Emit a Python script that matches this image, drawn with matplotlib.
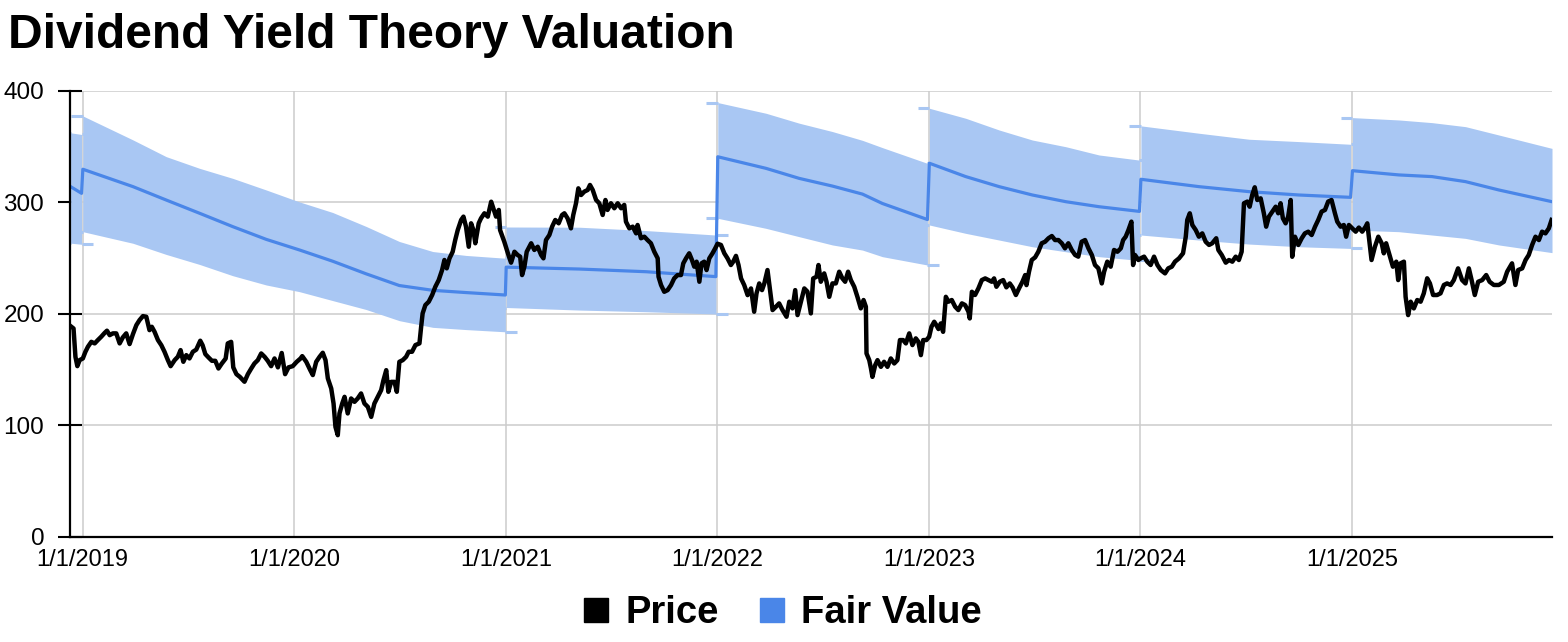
import matplotlib
matplotlib.use("Agg")
import matplotlib.pyplot as plt
from matplotlib.lines import Line2D

plt.rcParams['font.family'] = ['Liberation Sans', 'DejaVu Sans']

# price, x in decimal years
price_t = [
    2018.947, 2018.957, 2018.966, 2018.975, 2018.986, 2019.001, 2019.013, 2019.025, 2019.041, 2019.057,
    2019.072, 2019.088, 2019.104, 2019.115, 2019.128, 2019.143, 2019.159, 2019.175, 2019.190, 2019.206,
    2019.222, 2019.238, 2019.254, 2019.269, 2019.285, 2019.301, 2019.316, 2019.327, 2019.340, 2019.356,
    2019.372, 2019.387, 2019.403, 2019.416, 2019.435, 2019.450, 2019.463, 2019.476, 2019.490, 2019.505,
    2019.521, 2019.537, 2019.556, 2019.567, 2019.580, 2019.595, 2019.611, 2019.627, 2019.642, 2019.658,
    2019.676, 2019.686, 2019.702, 2019.712, 2019.727, 2019.743, 2019.765, 2019.781, 2019.797, 2019.812,
    2019.828, 2019.844, 2019.860, 2019.875, 2019.891, 2019.907, 2019.923, 2019.941, 2019.957, 2019.973,
    2019.993, 2020.012, 2020.030, 2020.038, 2020.057, 2020.076, 2020.088, 2020.104, 2020.120, 2020.135,
    2020.148, 2020.159, 2020.175, 2020.186, 2020.195, 2020.206, 2020.214, 2020.227, 2020.238, 2020.253,
    2020.269, 2020.285, 2020.300, 2020.316, 2020.332, 2020.348, 2020.364, 2020.379, 2020.395, 2020.411,
    2020.422, 2020.435, 2020.445, 2020.458, 2020.474, 2020.485, 2020.497, 2020.513, 2020.529, 2020.541,
    2020.557, 2020.573, 2020.592, 2020.600, 2020.607, 2020.620, 2020.636, 2020.652, 2020.667, 2020.683,
    2020.699, 2020.710, 2020.721, 2020.734, 2020.749, 2020.761, 2020.773, 2020.789, 2020.800, 2020.812,
    2020.825, 2020.836, 2020.847, 2020.856, 2020.872, 2020.883, 2020.899, 2020.915, 2020.931, 2020.941,
    2020.954, 2020.967, 2020.973, 2020.993, 2021.014, 2021.025, 2021.041, 2021.056, 2021.068, 2021.077,
    2021.088, 2021.099, 2021.120, 2021.135, 2021.151, 2021.167, 2021.178, 2021.190, 2021.206, 2021.219,
    2021.234, 2021.250, 2021.266, 2021.277, 2021.292, 2021.308, 2021.319, 2021.332, 2021.343, 2021.356,
    2021.371, 2021.387, 2021.398, 2021.411, 2021.427, 2021.442, 2021.458, 2021.471, 2021.481, 2021.497,
    2021.513, 2021.529, 2021.545, 2021.560, 2021.568, 2021.584, 2021.600, 2021.616, 2021.623, 2021.639,
    2021.655, 2021.670, 2021.686, 2021.702, 2021.718, 2021.722, 2021.734, 2021.749, 2021.765, 2021.781,
    2021.796, 2021.812, 2021.828, 2021.839, 2021.852, 2021.867, 2021.880, 2021.891, 2021.902, 2021.915,
    2021.925, 2021.938, 2021.949, 2021.962, 2021.977, 2021.990, 2022.001, 2022.017, 2022.033, 2022.048,
    2022.064, 2022.075, 2022.088, 2022.100, 2022.112, 2022.127, 2022.143, 2022.159, 2022.174, 2022.185,
    2022.198, 2022.211, 2022.222, 2022.237, 2022.249, 2022.261, 2022.277, 2022.292, 2022.308, 2022.327,
    2022.340, 2022.355, 2022.368, 2022.379, 2022.395, 2022.411, 2022.426, 2022.442, 2022.453, 2022.469,
    2022.478, 2022.489, 2022.505, 2022.516, 2022.529, 2022.544, 2022.560, 2022.576, 2022.591, 2022.604,
    2022.618, 2022.631, 2022.647, 2022.662, 2022.678, 2022.691, 2022.702, 2022.705, 2022.718, 2022.726,
    2022.733, 2022.746, 2022.757, 2022.773, 2022.788, 2022.804, 2022.820, 2022.836, 2022.851, 2022.863,
    2022.878, 2022.891, 2022.907, 2022.922, 2022.938, 2022.950, 2022.962, 2022.973, 2022.988, 2023.001,
    2023.012, 2023.025, 2023.035, 2023.045, 2023.056, 2023.067, 2023.080, 2023.092, 2023.108, 2023.124,
    2023.139, 2023.156, 2023.171, 2023.187, 2023.193, 2023.203, 2023.218, 2023.234, 2023.250, 2023.266,
    2023.281, 2023.297, 2023.308, 2023.319, 2023.335, 2023.351, 2023.366, 2023.382, 2023.395, 2023.411,
    2023.426, 2023.442, 2023.455, 2023.461, 2023.473, 2023.486, 2023.502, 2023.517, 2023.533, 2023.549,
    2023.565, 2023.581, 2023.596, 2023.612, 2023.628, 2023.643, 2023.659, 2023.675, 2023.691, 2023.706,
    2023.722, 2023.738, 2023.754, 2023.770, 2023.785, 2023.801, 2023.817, 2023.828, 2023.843, 2023.859,
    2023.875, 2023.891, 2023.907, 2023.918, 2023.930, 2023.943, 2023.957, 2023.965, 2023.974, 2023.990,
    2024.001, 2024.017, 2024.032, 2024.048, 2024.064, 2024.080, 2024.096, 2024.116, 2024.131, 2024.148,
    2024.163, 2024.182, 2024.201, 2024.214, 2024.221, 2024.233, 2024.245, 2024.261, 2024.276, 2024.292,
    2024.308, 2024.324, 2024.339, 2024.358, 2024.368, 2024.384, 2024.403, 2024.418, 2024.434, 2024.450,
    2024.465, 2024.478, 2024.489, 2024.505, 2024.516, 2024.528, 2024.540, 2024.552, 2024.568, 2024.583,
    2024.594, 2024.607, 2024.623, 2024.639, 2024.651, 2024.662, 2024.673, 2024.686, 2024.698, 2024.710,
    2024.717, 2024.730, 2024.746, 2024.762, 2024.777, 2024.793, 2024.809, 2024.825, 2024.840, 2024.856,
    2024.872, 2024.887, 2024.903, 2024.919, 2024.930, 2024.946, 2024.961, 2024.972, 2024.985, 2025.001,
    2025.017, 2025.032, 2025.048, 2025.064, 2025.072, 2025.083, 2025.092, 2025.108, 2025.124, 2025.140,
    2025.150, 2025.161, 2025.177, 2025.193, 2025.209, 2025.218, 2025.229, 2025.245, 2025.253, 2025.265,
    2025.277, 2025.292, 2025.308, 2025.324, 2025.339, 2025.355, 2025.368, 2025.383, 2025.402, 2025.418,
    2025.434, 2025.449, 2025.466, 2025.481, 2025.501, 2025.520, 2025.536, 2025.552, 2025.565, 2025.580,
    2025.596, 2025.615, 2025.634, 2025.650, 2025.670, 2025.694, 2025.717, 2025.733, 2025.756, 2025.772,
    2025.785, 2025.804, 2025.820, 2025.835, 2025.851, 2025.867, 2025.883, 2025.898, 2025.914, 2025.930,
    2025.943,
]
price = [
    188.5, 187.0, 161.6, 153.2, 158.6, 160.1, 166.0, 170.6, 175.0, 173.6,
    176.6, 179.6, 183.0, 185.0, 181.0, 182.6, 182.6, 173.6, 179.0, 182.6,
    173.0, 182.0, 190.0, 194.5, 198.1, 197.5, 185.5, 188.5, 184.0, 176.6,
    172.0, 166.1, 158.6, 153.2, 158.6, 161.6, 167.6, 157.1, 163.1, 160.1,
    166.1, 168.0, 176.0, 172.0, 164.0, 161.0, 158.0, 158.0, 151.1, 155.6,
    160.0, 173.6, 175.0, 152.1, 146.0, 143.6, 139.2, 146.0, 151.1, 155.6,
    158.6, 164.6, 161.6, 158.0, 153.2, 160.1, 152.1, 165.0, 146.0, 152.1,
    153.2, 157.1, 160.1, 162.2, 157.1, 149.6, 145.2, 157.1, 161.6, 165.2,
    158.6, 142.2, 133.2, 119.7, 98.7, 91.3, 110.8, 119.7, 125.7, 110.8,
    124.2, 121.2, 124.2, 128.7, 119.7, 116.7, 107.7, 119.7, 125.7, 131.7,
    140.7, 149.6, 130.2, 139.1, 139.1, 130.2, 157.1, 158.6, 161.6, 166.1,
    166.1, 172.1, 173.6, 188.5, 200.5, 208.0, 211.0, 217.0, 224.4, 230.4,
    239.4, 248.4, 240.9, 249.9, 255.8, 266.3, 275.3, 284.3, 287.3, 278.3,
    260.3, 281.3, 275.3, 263.4, 281.3, 285.8, 290.3, 287.3, 300.7, 294.8,
    287.3, 293.3, 275.3, 264.8, 252.0, 246.0, 255.8, 252.9, 251.4, 234.9,
    242.4, 255.8, 263.4, 257.4, 260.3, 252.9, 249.9, 266.3, 270.8, 278.3,
    284.3, 281.3, 288.8, 290.3, 285.8, 276.8, 288.8, 299.3, 312.7, 306.7,
    309.7, 311.2, 315.7, 311.2, 302.2, 299.3, 288.8, 302.2, 293.3, 299.3,
    294.8, 299.3, 294.8, 297.8, 282.8, 276.8, 278.3, 272.3, 279.8, 267.9,
    269.3, 266.3, 263.4, 255.8, 249.9, 233.4, 225.9, 219.9, 221.4, 225.9,
    231.9, 234.9, 234.9, 245.4, 249.9, 254.4, 248.4, 242.4, 246.9, 228.9,
    245.4, 246.9, 239.4, 249.9, 254.4, 258.9, 263.0, 261.9, 254.4, 249.9,
    243.9, 246.9, 252.1, 243.9, 231.9, 225.9, 216.9, 222.9, 202.0, 218.4,
    227.4, 221.4, 227.4, 239.4, 221.4, 203.5, 206.5, 209.5, 203.5, 197.5,
    211.0, 205.0, 221.4, 199.0, 211.0, 222.9, 220.0, 200.5, 231.9, 233.4,
    243.9, 228.9, 236.4, 228.9, 215.4, 227.4, 227.4, 237.9, 231.9, 228.9,
    237.9, 230.4, 224.4, 215.4, 205.0, 212.5, 206.5, 164.6, 158.6, 151.2,
    143.6, 154.1, 158.6, 152.6, 157.1, 152.6, 160.1, 155.6, 158.6, 176.6,
    176.6, 173.6, 182.6, 172.1, 178.1, 175.1, 163.1, 176.6, 176.6, 179.5,
    188.5, 193.0, 190.0, 186.5, 191.5, 184.0, 215.4, 211.0, 212.5, 206.5,
    203.5, 209.5, 208.0, 202.0, 196.0, 219.9, 217.0, 223.0, 230.4, 231.9,
    230.4, 228.9, 231.9, 224.4, 228.9, 230.4, 223.9, 227.4, 223.9, 217.0,
    223.0, 228.9, 234.9, 225.9, 237.9, 248.4, 250.8, 255.8, 263.4, 264.8,
    267.9, 269.9, 266.3, 266.3, 263.4, 258.9, 263.4, 257.4, 252.9, 251.4,
    264.8, 266.3, 258.9, 252.9, 243.9, 240.9, 227.4, 237.9, 246.9, 242.4,
    257.4, 255.8, 258.9, 266.3, 269.3, 275.3, 282.8, 243.9, 252.9, 248.4,
    249.9, 251.4, 246.9, 243.9, 251.4, 243.9, 239.4, 236.4, 240.9, 242.4,
    246.9, 249.9, 254.4, 269.3, 284.3, 290.3, 279.8, 275.3, 269.3, 272.3,
    264.8, 261.9, 263.4, 267.9, 257.4, 252.9, 246.0, 248.4, 246.9, 251.4,
    248.4, 255.8, 299.3, 300.8, 296.2, 306.7, 313.6, 302.2, 303.7, 290.3,
    278.3, 287.3, 291.8, 296.2, 290.3, 299.3, 285.8, 281.3, 287.3, 302.2,
    251.3, 269.3, 261.9, 267.9, 272.3, 273.8, 270.8, 278.3, 284.3, 291.8,
    293.3, 300.8, 302.2, 290.3, 282.8, 278.3, 279.8, 269.3, 279.8, 276.8,
    273.8, 277.5, 273.8, 278.3, 281.3, 263.4, 248.4, 260.3, 269.3, 263.4,
    254.4, 263.4, 252.9, 242.4, 246.9, 230.4, 245.4, 246.9, 215.4, 199.0,
    211.0, 205.0, 212.5, 211.0, 218.5, 232.0, 227.4, 217.0, 217.0, 218.5,
    226.0, 227.4, 226.0, 230.4, 240.9, 230.4, 227.4, 240.9, 230.4, 217.0,
    228.9, 230.4, 234.9, 228.9, 226.0, 226.0, 228.9, 237.9, 245.4, 226.0,
    239.4, 240.9, 248.4, 252.9, 261.9, 269.3, 266.3, 273.8, 272.3, 276.8,
    284.3,
]

# fair value with its interval, one list per year segment
fair_t = [
    [2018.943, 2018.995],
    [2019.001, 2019.238, 2019.395, 2019.553, 2019.710, 2019.868, 2020.025,
     2020.182, 2020.340, 2020.497, 2020.655, 2020.812, 2020.998],
    [2021.002, 2021.348, 2021.663, 2021.993],
    [2022.002, 2022.230, 2022.387, 2022.544, 2022.686, 2022.780, 2022.993],
    [2023.002, 2023.174, 2023.332, 2023.489, 2023.647, 2023.804, 2023.995],
    [2024.002, 2024.276, 2024.513, 2024.749, 2024.993],
    [2025.002, 2025.221, 2025.378, 2025.536, 2025.694, 2025.945],
]
fair = [
    [314.2, 308.2],
    [329.8, 314.2, 302.2, 290.3, 278.3, 266.9, 257.4, 247.3, 236.0, 225.5, 221.2, 219.2, 217.0],
    [242.0, 240.3, 237.9, 233.5],
    [341.0, 330.6, 321.6, 314.7, 307.5, 299.1, 284.7],
    [335.2, 323.2, 314.2, 306.7, 300.7, 296.2, 292.0],
    [320.8, 314.2, 309.7, 306.7, 304.6],
    [328.5, 324.7, 323.2, 318.7, 311.2, 300.7],
]
fair_hi = [
    [362.5, 361.0],
    [377.6, 356.1, 341.1, 330.6, 321.6, 311.2, 300.5, 291.0, 278.5, 265.0, 256.0, 252.5, 250.0],
    [278.0, 277.8, 274.8, 270.8],
    [389.6, 380.0, 371.1, 363.6, 355.7, 349.2, 335.1],
    [384.5, 375.5, 365.0, 356.0, 350.0, 342.6, 338.0],
    [368.7, 362.1, 356.7, 354.6, 352.2],
    [376.1, 374.0, 371.6, 368.0, 360.5, 348.5],
]
fair_lo = [
    [263.5, 262.5],
    [273.8, 263.4, 253.4, 244.4, 234.3, 226.0, 220.0, 212.0, 204.0, 194.0, 188.0, 186.0, 184.0],
    [205.8, 203.5, 202.0, 200.0],
    [285.8, 276.8, 269.3, 261.9, 257.3, 251.4, 243.9],
    [279.8, 272.3, 266.3, 260.3, 255.8, 251.4, 248.0],
    [270.8, 266.3, 262.7, 260.3, 258.8],
    [275.3, 273.8, 270.8, 267.8, 261.9, 255.0],
]

years = [2019, 2020, 2021, 2022, 2023, 2024, 2025]

blue = '#4a86e8'
band = '#a9c7f3'

fig = plt.figure(figsize=(15.68, 6.42), dpi=100)
ax = fig.add_axes([0.0446, 0.1636, 0.9452, 0.6947])

# the interval band, one piece per year, with the little end caps
for t, hi, lo in zip(fair_t, fair_hi, fair_lo):
    ax.fill_between(t, lo, hi, color=band, linewidth=0, zorder=1)
    ax.hlines([hi[0], lo[0]], t[0] - 0.055, t[0], color=band, linewidth=2.2, zorder=1)
    ax.hlines([hi[-1], lo[-1]], t[-1], t[-1] + 0.055, color=band, linewidth=2.2, zorder=1)

# fair value line, joined across the jumps
ft = [v for seg in fair_t for v in seg]
fv = [v for seg in fair for v in seg]
ax.plot(ft, fv, color=blue, linewidth=2.3, zorder=3, solid_joinstyle='round')

ax.plot(price_t, price, color='black', linewidth=3.2, zorder=4, solid_joinstyle='round')

ax.set_xlim(2018.94, 2025.945)
ax.set_ylim(0, 400)
ax.set_yticks([0, 100, 200, 300, 400])
ax.set_xticks(years)
ax.set_xticklabels(['1/1/%d' % y for y in years])
ax.grid(True, color='#cccccc', linewidth=1.1, zorder=0)
ax.set_axisbelow(True)

for s in ['top', 'right']:
    ax.spines[s].set_visible(False)
ax.spines['left'].set_linewidth(1.6)
ax.spines['bottom'].set_linewidth(1.6)
ax.spines['left'].set_zorder(5)
ax.spines['bottom'].set_zorder(5)

ax.tick_params(axis='y', direction='inout', length=17, width=1.5, labelsize=17.5, pad=10)
ax.tick_params(axis='x', length=0, labelsize=17, pad=9)

fig.text(0.005, 0.945, 'Dividend Yield Theory Valuation', fontsize=34.5, fontweight='bold',
         ha='left', va='center')

handles = [Line2D([], [], marker='s', linestyle='none', markersize=17, color='black'),
           Line2D([], [], marker='s', linestyle='none', markersize=17, color=blue)]
fig.legend(handles, ['Price', 'Fair Value'], loc='center', bbox_to_anchor=(0.497, 0.045),
           ncol=2, frameon=False, prop={'size': 27.5, 'weight': 'bold'},
           handletextpad=0.25, columnspacing=0.9, handlelength=1.0)

fig.savefig('out.png', dpi=100)
